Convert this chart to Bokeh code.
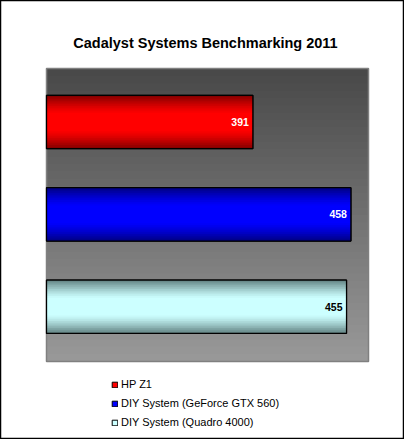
import numpy as np
from bokeh.plotting import figure
from bokeh.models import Range1d, Label, Legend, LegendItem
from bokeh.core.properties import value
from bokeh.embed import file_html
from bokeh.resources import INLINE

# ---- data ----
title_text = "Cadalyst Systems Benchmarking 2011"
series = ["HP Z1", "DIY System (GeForce GTX 560)", "DIY System (Quadro 4000)"]
scores = [391, 458, 455]
bar_colors = ["#ff0000", "#0000ff", "#ccffff"]
edge_colors = ["#800000", "#000080", "#5f7f7f"]
label_colors = ["#ffffff", "#ffffff", "#000000"]
axis_min, axis_max = 250, 470

FONT = "Liberation Sans"
W, H = 404, 439
# plot-area box inside the canvas (pixels)
PL, PR, PT, PB = 46, 368, 68, 361
Y_TOP, Y_BOT = -0.579, 2.593
BAR_H = 0.578

sx = (PR - PL) / (axis_max - axis_min)
sy_ = (PB - PT) / (Y_BOT - Y_TOP)
x_start = axis_min - PL / sx
x_end = axis_max + (W - PR) / sx
y_top = Y_TOP - PT / sy_
y_bot = Y_BOT + (H - PB) / sy_


def hexc(rgb):
    return "#%02x%02x%02x" % tuple(int(round(v)) for v in rgb)


def to_rgb(h):
    h = h.lstrip("#")
    return np.array([int(h[i:i + 2], 16) for i in (0, 2, 4)], dtype=float)


p = figure(width=W, height=H, output_backend="svg", toolbar_location=None,
           x_range=Range1d(x_start, x_end), y_range=Range1d(y_bot, y_top),
           x_axis_location=None, y_axis_location=None,
           min_border=0, min_border_left=0, min_border_right=0,
           min_border_top=0, min_border_bottom=0)
p.grid.visible = False
p.outline_line_color = "black"
p.outline_line_width = 1.5
p.border_fill_color = "white"
p.background_fill_color = "white"

# background vertical gradient (dark top -> light bottom), overlapping bands
n_bg = 40
bg_edges = np.linspace(Y_TOP, Y_BOT, n_bg + 1)
band = (Y_BOT - Y_TOP) / n_bg
top_rgb = np.array([72, 72, 72.0])
bot_rgb = np.array([153, 153, 153.0])
tt = (np.arange(n_bg) + 0.5) / n_bg
bg_cols = [hexc(top_rgb + (bot_rgb - top_rgb) * t) for t in tt]
bg_bottom = np.minimum(bg_edges[1:] + 0.5 * band, Y_BOT)
p.quad(left=axis_min, right=axis_max, top=bg_edges[:-1], bottom=bg_bottom,
       fill_color=bg_cols, line_color=None)
# plot-area border
p.quad(left=[axis_min], right=[axis_max], top=[Y_TOP], bottom=[Y_BOT],
       fill_alpha=0, line_color="#808080", line_width=1.5)

y_pos = list(range(len(series)))

# main bars (used for legend)
main_renderers = []
for i in y_pos:
    r = p.hbar(y=[i], left=[axis_min], right=[scores[i]], height=BAR_H,
               fill_color=bar_colors[i], line_color="black", line_width=1)
    main_renderers.append(r)

# gradient slices inside each bar (overlapping to avoid seams)
n_sl = 30
sl_h = BAR_H / n_sl
sy, sh, sr, sc = [], [], [], []
for i in y_pos:
    c_mid = to_rgb(bar_colors[i])
    c_edge = to_rgb(edge_colors[i])
    for k in range(n_sl):
        t = (k + 0.5) / n_sl
        d = abs(2 * t - 1)          # 0 centre, 1 edge
        f = min(1.0, max(0.0, (d - 0.3) / 0.7))
        f = f ** 1.3
        top_k = i - BAR_H / 2 + k * sl_h
        h_k = sl_h * (1.5 if k < n_sl - 1 else 1.0)
        sy.append(top_k + h_k / 2)
        sh.append(h_k)
        sr.append(scores[i])
        sc.append(hexc(c_mid + (c_edge - c_mid) * f))
p.hbar(y=sy, left=axis_min, right=sr, height=sh,
       fill_color=sc, line_color=None)

# bar outlines
p.hbar(y=y_pos, left=axis_min, right=scores, height=BAR_H,
       fill_alpha=0, line_color="black", line_width=1.3)

# value labels
p.text(x=scores, y=y_pos, text=[str(s) for s in scores], text_color=label_colors,
       text_align="right", text_baseline="middle", x_offset=-4,
       text_font=value(FONT), text_font_style="bold", text_font_size="10.5px")

# title
p.add_layout(Label(x=205, y=H - 42, x_units="screen", y_units="screen",
                   text=title_text, text_align="center", text_baseline="alphabetic",
                   text_font=FONT, text_font_style="bold", text_font_size="14.5px",
                   text_color="black"))

# legend
legend = Legend(items=[LegendItem(label=series[i], renderers=[main_renderers[i]]) for i in y_pos],
                location=(111, 8), glyph_width=7, glyph_height=7, label_height=18,
                spacing=1, padding=0, margin=0, label_standoff=3,
                border_line_alpha=0, background_fill_alpha=0,
                label_text_font=FONT, label_text_font_size="11px", label_text_color="black")
p.add_layout(legend)

open("out.html", "w").write(file_html(p, INLINE))
